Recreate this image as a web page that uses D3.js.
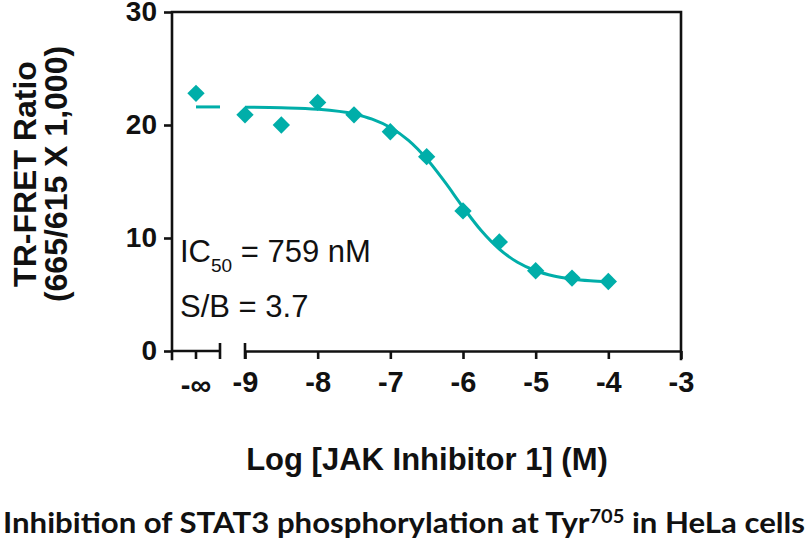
<!DOCTYPE html>
<html>
<head>
<meta charset="utf-8">
<script src="https://cdn.jsdelivr.net/npm/d3@7"></script>
<style>
  body { margin: 0; background: #fff; }
  svg { display: block; }
</style>
</head>
<body>
<div id="chart"></div>
<script>
// measured values (log M concentration vs TR-FRET ratio)
const logConc = [-9, -8.5, -8, -7.5, -7, -6.5, -6, -5.5, -5, -4.5, -4]
const ratio = [20.9, 20.0, 22.0, 20.9, 19.4, 17.2, 12.4, 9.65, 7.1, 6.45, 6.15]
// no-inhibitor control (plotted at -infinity)
const zeroRatio = 22.8
const zeroFit = 21.6

// fitted curve
const fitConc = [-9, -8.5, -8, -7.5, -7.25, -7, -6.75, -6.5, -6.25, -6, -5.75, -5.5, -5.25, -5, -4.75, -4.5, -4.25, -4]
const fitRatio = [21.58, 21.53, 21.4, 20.98, 20.52, 19.78, 18.64, 17.01, 14.96, 12.73, 10.66, 9.02, 7.85, 7.1, 6.64, 6.37, 6.21, 6.12]

const xTicks = [-9, -8, -7, -6, -5, -4, -3]
const yTicks = [0, 10, 20, 30]

const width = 808
const height = 540
const teal = '#00aea9'
const ink = '#111'
const sans = 'Liberation Sans, Arial, sans-serif'

const svg = d3.select('#chart').append('svg')
    .attr('width', width)
    .attr('height', height)

// scales
const y = d3.scaleLinear().domain([0, 30]).range([351, 12])
const x = d3.scaleLinear().domain([-9, -3]).range([245, 681])
const xZero = d3.scalePoint().domain(['-∞']).range([196, 196])
const left = 172
const breakEnd = 220
const tickLen = 8

// frame: y axis, top, right
svg.append('path')
    .attr('d', `M${left},${y(0) + tickLen}V${y(30)}H${x(-3)}V${y(0) + tickLen}`)
    .attr('stroke', ink)
    .attr('stroke-width', 2.6)
    .attr('fill', 'none')
    .attr('stroke-linecap', 'square')

// y axis
const yAxis = d3.axisLeft(y).tickValues(yTicks).tickSize(tickLen).tickPadding(7)
svg.append('g')
    .attr('transform', `translate(${left},0)`)
    .call(yAxis)
    .call(g => g.select('.domain').remove())
    .call(g => g.selectAll('line').attr('stroke', ink).attr('stroke-width', 2.6))
    .call(g => g.selectAll('text')
        .attr('fill', ink)
        .attr('font-family', sans)
        .attr('font-weight', 'bold')
        .attr('font-size', 28))

// x axis: break segment for -inf
const xBreak = svg.append('g')
xBreak.append('path')
    .attr('d', `M${left},${y(0)}H${breakEnd}M${breakEnd},${y(0) - tickLen}V${y(0) + tickLen}M${xZero('-∞')},${y(0)}V${y(0) + tickLen}`)
    .attr('stroke', ink)
    .attr('stroke-width', 2.6)
    .attr('fill', 'none')
xBreak.append('text')
    .attr('x', xZero('-∞'))
    .attr('y', 395)
    .attr('text-anchor', 'middle')
    .attr('fill', ink)
    .attr('font-family', sans)
    .attr('font-weight', 'bold')
    .attr('font-size', 29)
    .text('-∞')

// x axis: main segment
const xAxis = d3.axisBottom(x).tickValues(xTicks).tickSize(tickLen).tickSizeOuter(0).tickPadding(12)
    .tickFormat(d => d)
svg.append('g')
    .attr('transform', `translate(0,${y(0)})`)
    .call(xAxis)
    .call(g => g.select('.domain').attr('stroke', ink).attr('stroke-width', 2.6))
    .call(g => g.selectAll('line').attr('stroke', ink).attr('stroke-width', 2.6))
    .call(g => g.selectAll('text')
        .attr('fill', ink)
        .attr('font-family', sans)
        .attr('font-weight', 'bold')
        .attr('font-size', 29))
svg.append('path')
    .attr('d', `M${x(-9)},${y(0) - tickLen}V${y(0) + tickLen}`)
    .attr('stroke', ink)
    .attr('stroke-width', 2.6)

// fitted curve
const line = d3.line()
    .x(d => x(d[0]))
    .y(d => y(d[1]))
    .curve(d3.curveMonotoneX)
svg.append('path')
    .datum(d3.zip(fitConc, fitRatio))
    .attr('d', line)
    .attr('fill', 'none')
    .attr('stroke', teal)
    .attr('stroke-width', 3)

// fit level for the control
svg.append('line')
    .attr('x1', xZero('-∞'))
    .attr('x2', breakEnd)
    .attr('y1', y(zeroFit))
    .attr('y2', y(zeroFit))
    .attr('stroke', teal)
    .attr('stroke-width', 3)

// points
const diamond = d3.symbol().type(d3.symbolSquare).size(150)
svg.append('g')
    .selectAll('path')
    .data(d3.zip(logConc, ratio))
    .join('path')
    .attr('d', diamond)
    .attr('transform', d => `translate(${x(d[0])},${y(d[1])}) rotate(45)`)
    .attr('fill', teal)
svg.append('path')
    .attr('d', diamond)
    .attr('transform', `translate(${xZero('-∞')},${y(zeroRatio)}) rotate(45)`)
    .attr('fill', teal)

// annotations
const ic = svg.append('text')
    .attr('x', 180)
    .attr('y', 262)
    .attr('fill', ink)
    .attr('font-family', sans)
    .attr('font-size', 31)
ic.append('tspan').text('IC')
ic.append('tspan').attr('font-size', 19).attr('dy', 10).text('50')
ic.append('tspan').attr('dy', -10).text(' = 759 nM')

svg.append('text')
    .attr('x', 180)
    .attr('y', 317)
    .attr('fill', ink)
    .attr('font-family', sans)
    .attr('font-size', 31)
    .text('S/B = 3.7')

// axis titles
svg.append('text')
    .attr('x', 427)
    .attr('y', 470)
    .attr('text-anchor', 'middle')
    .attr('fill', ink)
    .attr('font-family', sans)
    .attr('font-weight', 'bold')
    .attr('font-size', 31)
    .text('Log [JAK Inhibitor 1] (M)')

const yTitle = svg.append('text')
    .attr('transform', 'translate(36,174) rotate(-90)')
    .attr('text-anchor', 'middle')
    .attr('fill', ink)
    .attr('font-family', sans)
    .attr('font-weight', 'bold')
    .attr('font-size', 32)
yTitle.append('tspan').attr('x', 0).attr('dy', 0).text('TR-FRET Ratio')
yTitle.append('tspan').attr('x', 0).attr('dy', 31).text('(665/615 X 1,000)')

// caption
const cap = svg.append('text')
    .attr('x', 3)
    .attr('y', 533)
    .attr('fill', ink)
    .attr('font-family', 'Lato, sans-serif')
    .attr('font-weight', 'bold')
    .attr('font-size', 28)
    .attr('textLength', 802)
    .attr('lengthAdjust', 'spacingAndGlyphs')
cap.append('tspan').text('Inhibition of STAT3 phosphorylation at Tyr')
cap.append('tspan').attr('font-size', 18).attr('dy', -10).text('705')
cap.append('tspan').attr('dy', 10).text(' in HeLa cells')
</script>
</body>
</html>
